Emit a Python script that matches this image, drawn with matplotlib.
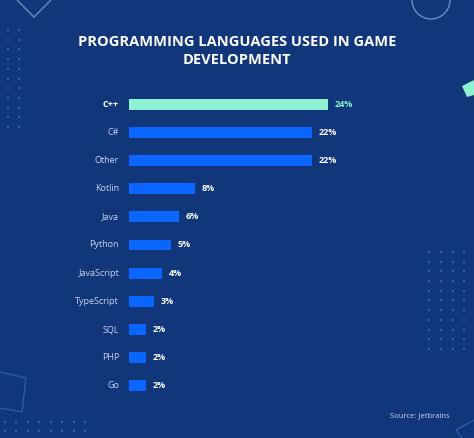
import numpy as np
import matplotlib.pyplot as plt
from matplotlib.patches import Polygon, Circle

languages = ['C++', 'C#', 'Other', 'Kotlin', 'Java', 'Python', 'JavaScript',
             'TypeScript', 'SQL', 'PHP', 'Go']
shares = [24, 22, 22, 8, 6, 5, 4, 3, 2, 2, 2]

bg = '#11367a'
blue = '#0a66ff'
mint = '#8ef2d2'
W, H = 474, 438

fig = plt.figure(figsize=(4.74, 4.38), dpi=100, facecolor=bg)

# decorations in pixel coordinates (y from top)
deco = fig.add_axes([0, 0, 1, 1])
deco.set_xlim(0, W)
deco.set_ylim(H, 0)
deco.axis('off')
deco.add_patch(Polygon([(17, 0), (34, 17), (51, 0)], closed=False, fill=False,
                       ec='#5f7fb8', lw=1.2))
deco.add_patch(Circle((431, 0), 19, fill=False, ec='#6f8cc4', lw=1.0))
deco.add_patch(Polygon([(462, 86), (474, 80), (474, 95), (467, 97)], fc=mint, ec='none'))
deco.add_patch(Polygon([(0, 372), (26, 378), (22, 412), (0, 408)], closed=False,
                       fill=False, ec='#2f5aa8', lw=1.0))
deco.add_patch(Polygon([(474, 420), (456, 430), (462, 438)], closed=False,
                       fill=False, ec='#2f5aa8', lw=1.0))
gx, gy = np.meshgrid([8, 19], np.arange(30, 135, 9.7))
deco.scatter(gx, gy, s=1.2, c='#2f62b5', marker='s', lw=0)
gx, gy = np.meshgrid(np.arange(429, 470, 11.8), np.arange(252, 352, 9.7))
deco.scatter(gx, gy, s=1.2, c='#2f62b5', marker='s', lw=0)
gx, gy = np.meshgrid(np.arange(5, 90, 11.5), [422, 431])
deco.scatter(gx, gy, s=1.2, c='#2f62b5', marker='s', lw=0)

fig.text(0.5, 1 - 42 / H, 'PROGRAMMING LANGUAGES USED IN GAME', ha='center',
         va='center', color='white', fontsize=10.5, fontweight='bold', family='Open Sans')
fig.text(0.5, 1 - 60 / H, 'DEVELOPMENT', ha='center', va='center', color='white',
         fontsize=10.5, fontweight='bold', family='Open Sans')
fig.text(1 - 24 / W, 1 - 416 / H, 'Source: Jetbrains', ha='right', va='center',
         color='#c8d4f0', fontsize=5.5, family='Open Sans')

ax = fig.add_axes([129 / W, 1 - 400 / H, (W - 129) / W, 310 / H])
ax.set_facecolor('none')
ax.set_xlim(0, (W - 129) / 8.3)
ax.set_ylim(10.5, -0.5)
y = np.arange(len(languages))
colors = [mint] + [blue] * (len(languages) - 1)
ax.barh(y, shares, height=0.39, color=colors)
for yi, v, lab, c in zip(y, shares, languages, colors):
    ax.text(v + 0.8, yi, f'{v}%', va='center', ha='left', fontsize=6.5,
            fontweight='bold', color=mint if c == mint else 'white', family='Open Sans')
    ax.text(-1.2, yi, lab, va='center', ha='right', fontsize=6.5,
            color='white' if c == mint else '#c8d4f0', family='Open Sans',
            fontweight='bold' if c == mint else 'normal')
ax.axis('off')

fig.savefig('out.png', dpi=100, facecolor=bg)
